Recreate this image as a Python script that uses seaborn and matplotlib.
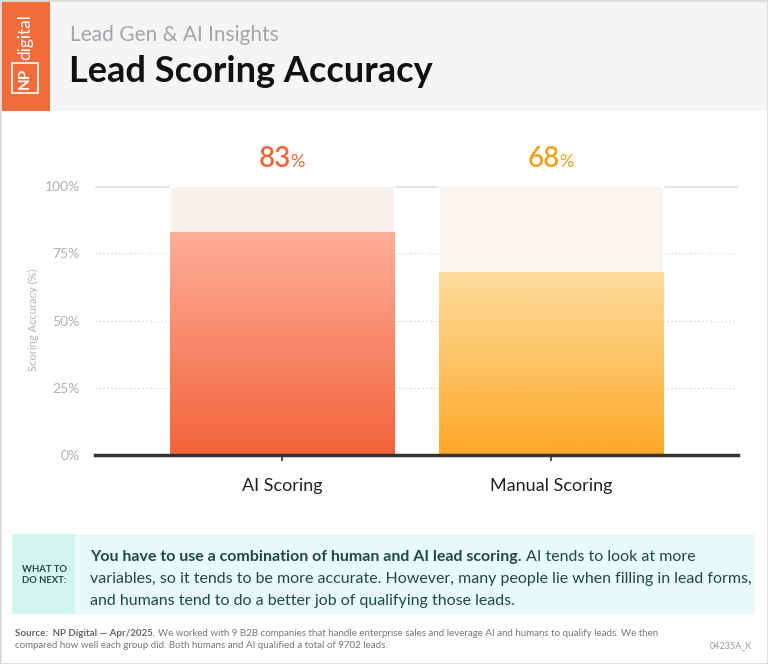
import numpy as np
import pandas as pd
import matplotlib
matplotlib.use("Agg")
import matplotlib.pyplot as plt
from matplotlib.patches import Rectangle
from matplotlib.colors import LinearSegmentedColormap
import seaborn as sns

# --- Data ---
categories = ["AI Scoring", "Manual Scoring"]
accuracy = [83, 68]
y_ticks = [0, 25, 50, 75, 100]
y_tick_labels = ["0%", "25%", "50%", "75%", "100%"]

# --- Style ---
W, H = 768, 664
FONT = "Lato"
bar_top = ["#ffae9a", "#fedd9e"]
bar_bottom = ["#f2643a", "#fea828"]
bar_bg = ["#fdeeea", "#fef6e8"]
label_col = ["#f0643a", "#eba21e"]

sns.set_theme(style="white")
plt.rcParams["font.family"] = [FONT, "DejaVu Sans"]


def fx(x):
    return x / W


def fy(y):
    return 1 - y / H


fig = plt.figure(figsize=(W / 100, H / 100), dpi=100)
fig.patch.set_facecolor("white")
renderer = fig.canvas.get_renderer()

# header band + logo
fig.add_artist(Rectangle((0, fy(111)), 1, 111 / H, transform=fig.transFigure,
                         facecolor="#f4f5f6", edgecolor="none", zorder=0))
fig.add_artist(Rectangle((0, fy(111)), fx(50), 111 / H, transform=fig.transFigure,
                         facecolor="#f26b3a", edgecolor="none", zorder=1))
fig.add_artist(Rectangle((fx(12), fy(93)), fx(26), 30 / H, transform=fig.transFigure,
                         facecolor="none", edgecolor="white", lw=1.2, zorder=2))
fig.text(fx(25), fy(78), "NP", rotation=90, color="white", fontsize=11,
         fontweight="bold", ha="center", va="center", zorder=3)
fig.text(fx(25), fy(37), "digital", rotation=90, color="white", fontsize=12.5,
         ha="center", va="center", zorder=3)
fig.text(fx(70), fy(35), "Lead Gen & AI Insights", color="#a3a6a9", fontsize=15,
         ha="left", va="center")
fig.text(fx(69), fy(72), "Lead Scoring Accuracy", color="#111111", fontsize=26,
         ha="left", va="center", fontweight="bold")

# outer border
fig.add_artist(Rectangle((0, 0), 1, 1, transform=fig.transFigure,
                         facecolor="none", edgecolor="#dcdcdc", lw=2, zorder=10))

# --- Chart ---
ax = fig.add_axes([fx(95), fy(455), 643 / W, 269 / H])
df = pd.DataFrame({"category": categories, "accuracy": accuracy,
                   "full": [100] * len(categories)})

sns.barplot(data=df, x="category", y="full", hue="category", palette=bar_bg,
            width=0.836, legend=False, ax=ax, zorder=2)
sns.barplot(data=df, x="category", y="accuracy", hue="category", palette=bar_bottom,
            width=0.836, legend=False, ax=ax, zorder=3)

ax.set_xlim(-0.695, 1.695)
ax.set_ylim(0, 100)
ax.set_aspect("auto")
ax.set_axisbelow(False)

n = len(categories)
fg_bars = ax.patches[n:]
for i, bar in enumerate(fg_bars):
    x0, y0 = bar.get_x(), bar.get_y()
    w, h = bar.get_width(), bar.get_height()
    cmap = LinearSegmentedColormap.from_list("g", [bar_bottom[i], bar_top[i]])
    grad = np.linspace(0, 1, 256).reshape(-1, 1)
    im = ax.imshow(grad, extent=[x0, x0 + w, y0, y0 + h], origin="lower",
                   cmap=cmap, aspect="auto", zorder=4)
    im.set_clip_path(bar)

    # value label: big number + small %, centred together over the bar
    cx, cy = ax.transData.transform((x0 + w / 2, 110))
    t1 = fig.text(0, 0, f"{accuracy[i]}", color=label_col[i], fontsize=20,
                  fontweight="semibold", ha="left", va="baseline")
    t2 = fig.text(0, 0, "%", color=label_col[i], fontsize=13, ha="left", va="baseline")
    w1 = t1.get_window_extent(renderer=renderer).width
    w2 = t2.get_window_extent(renderer=renderer).width
    left = cx - (w1 + w2) / 2
    base = cy - 8
    t1.set_position((left / fig.bbox.width, base / fig.bbox.height))
    t2.set_position(((left + w1 - 1) / fig.bbox.width, base / fig.bbox.height))

for y in [25, 50, 75]:
    ax.axhline(y, color="#d8d8d8", lw=0.8, ls=(0, (1.5, 2)), zorder=1)
ax.axhline(100, color="#e3e3e3", lw=2.2, zorder=1)

for s in ["top", "right", "left"]:
    ax.spines[s].set_visible(False)
ax.spines["bottom"].set_color("#333333")
ax.spines["bottom"].set_linewidth(2.5)
ax.spines["bottom"].set_zorder(6)

ax.set_yticks(y_ticks)
ax.set_yticklabels(y_tick_labels, color="#b0b0b0", fontsize=10)
ax.tick_params(axis="y", left=False, length=0, pad=11)
ax.tick_params(axis="x", bottom=True, direction="inout", length=9, width=1.2,
               color="#333333", labelsize=13, labelcolor="#222222", pad=12)
ax.set_xlabel("")
ax.set_ylabel("")
fig.text(fx(33), fy(320), "Scoring Accuracy (%)", rotation=90, color="#b5b5b5",
         fontsize=8, ha="center", va="center")

# --- Callout ---
fig.add_artist(Rectangle((fx(12), fy(614)), fx(743), 80 / H, transform=fig.transFigure,
                         facecolor="#e8fbf8", edgecolor="none", zorder=1))
fig.add_artist(Rectangle((fx(12), fy(614)), fx(63), 80 / H, transform=fig.transFigure,
                         facecolor="#d2f5ef", edgecolor="none", zorder=1))
fig.text(fx(44), fy(575), "WHAT TO\nDO NEXT:", color="#1f4a3f", fontsize=6.8,
         fontweight="bold", ha="center", va="center", linespacing=1.3)

green = "#1f4a3f"
fs = 11.5
b = fig.text(fx(90), fy(557), "You have to use a combination of human and AI lead scoring.",
             color=green, fontsize=fs, fontweight="bold", ha="left", va="center")
bb = b.get_window_extent(renderer=renderer)
fig.text(bb.x1 / fig.bbox.width + fx(4), fy(557), "AI tends to look at more",
         color=green, fontsize=fs, ha="left", va="center")
fig.text(fx(90), fy(579), "variables, so it tends to be more accurate. However, many people lie when filling in lead forms,",
         color=green, fontsize=fs, ha="left", va="center")
fig.text(fx(90), fy(601), "and humans tend to do a better job of qualifying those leads.",
         color=green, fontsize=fs, ha="left", va="center")

# --- Footer ---
s = fig.text(fx(15), fy(634), "Source:  NP Digital \u2014 Apr/2025.", color="#666666",
             fontsize=7, fontweight="bold", ha="left", va="center")
sb = s.get_window_extent(renderer=renderer)
fig.text(sb.x1 / fig.bbox.width + fx(3), fy(634),
         "We worked with 9 B2B companies that handle enterprise sales and leverage AI and humans to qualify leads. We then",
         color="#777777", fontsize=7, ha="left", va="center")
fig.text(fx(15), fy(645), "compared how well each group did. Both humans and AI qualified a total of 9702 leads.",
         color="#777777", fontsize=7, ha="left", va="center")
fig.text(fx(752), fy(646), "04235A_K", color="#999999", fontsize=6.5, ha="right", va="center")

fig.savefig("out.png", dpi=100)
